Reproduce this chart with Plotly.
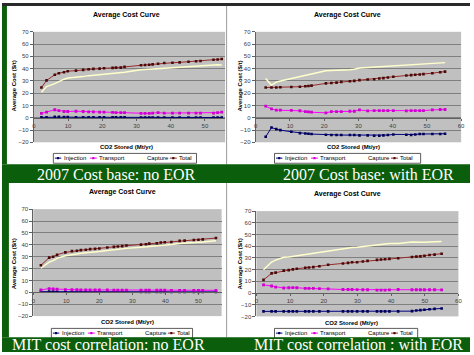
import plotly.graph_objects as go

W, H = 474, 355

# ---------------- data ----------------
series_names = ["Injection", "Transport", "Capture", "Total"]
captions = ["2007 Cost base: no EOR", "2007 Cost base: with EOR",
            "MIT cost correlation: no EOR", "MIT cost correlation : with EOR"]
chart_title = "Average Cost Curve"
x_title = "CO2 Stored (Mt/yr)"
y_title = "Average Cost ($/t)"
y_ticks = [-20, -10, 0, 10, 20, 30, 40, 50, 60, 70]
x_ticks = [0, 10, 20, 30, 40, 50, 60]

# Panel 1: 2007 cost base, no EOR
p1_x = [2.2, 3.7, 6.1, 7.3, 8.8, 9.9, 12.3, 14.4, 16.0, 17.4, 19.2, 20.5, 23.0, 24.0, 25.4,
        26.5, 31.3, 32.5, 33.7, 34.7, 36.3, 38.1, 40.5, 42.6, 45.2, 47.4, 48.7, 52.5, 53.7, 54.9]
p1_total = [24.6, 30.4, 35.0, 36.3, 37.1, 37.9, 38.4, 39.0, 39.5, 39.8, 40.0, 40.3, 40.6, 40.8, 40.8,
            41.4, 42.7, 43.0, 43.2, 43.5, 44.0, 44.6, 44.8, 45.1, 45.6, 46.0, 46.2, 47.2, 47.5, 47.8]
p1_transport = [3.5, 4.6, 6.5, 5.8, 5.1, 5.1, 5.3, 5.1, 4.8, 4.8, 4.6, 4.6, 4.3, 4.1, 4.1,
                4.1, 3.5, 3.5, 3.5, 3.8, 4.1, 3.8, 3.8, 3.8, 3.8, 3.8, 3.8, 3.8, 4.2, 4.6]
p1_injection = [0.3, 0.4, 0.7, 0.8, 0.6, 0.5, 0.4, 0.4, 0.4, 0.4, 0.3, 0.3, 0.3, 0.3, 0.3,
                0.3, 0.2, 0.2, 0.2, 0.2, 0.2, 0.2, 0.2, 0.2, 0.2, 0.2, 0.2, 0.2, 0.2, 0.2]
p1_capture = [20.8, 25.4, 27.8, 29.7, 31.4, 32.3, 32.7, 33.5, 34.3, 34.6, 35.1, 35.4, 36.0, 36.4, 36.4,
              37.0, 39.0, 39.3, 39.5, 39.5, 39.7, 40.6, 40.8, 41.1, 41.6, 42.0, 42.2, 43.2, 43.1, 43.0]

# Panel 2: 2007 cost base, with EOR
p2_x = [2.9, 4.6, 6.0, 7.2, 10.4, 12.9, 14.5, 15.4, 16.3, 20.5, 22.1, 23.6, 25.0, 27.5, 28.8,
        30.3, 32.7, 34.6, 36.1, 37.3, 38.6, 40.2, 44.0, 45.4, 46.6, 47.9, 49.0, 51.6, 53.9, 55.3]
p2_total = [24.6, 24.6, 24.6, 24.8, 25.1, 25.3, 25.6, 25.9, 26.2, 28.0, 28.3, 28.6, 29.2, 29.7, 30.0,
            30.6, 31.2, 31.4, 32.0, 32.3, 32.8, 33.4, 34.4, 34.7, 35.0, 35.2, 35.5, 36.3, 37.1, 37.6]
p2_transport = [9.4, 7.2, 6.2, 6.2, 6.0, 5.7, 5.0, 4.7, 4.5, 4.0, 5.0, 5.0, 5.0, 5.3, 5.3,
                6.4, 5.6, 5.8, 5.8, 5.8, 5.8, 5.8, 5.6, 5.8, 5.8, 5.8, 5.8, 6.4, 6.7, 6.7]
p2_injection = [-15.5, -8.0, -9.3, -10.1, -11.4, -12.5, -12.8, -13.0, -13.3, -13.9, -14.1, -14.1, -14.1, -14.1, -14.1,
                -14.4, -14.4, -14.7, -14.7, -14.4, -14.1, -13.6, -13.9, -14.1, -13.6, -13.3, -13.3, -13.3, -13.3, -13.0]
p2_capture = [32.0, 26.5, 29.0, 30.0, 32.0, 33.5, 34.5, 35.0, 35.5, 38.3, 38.4, 38.5, 38.6, 39.0, 39.5,
              40.5, 41.0, 41.3, 41.5, 41.8, 42.0, 42.2, 43.3, 43.5, 43.6, 43.7, 44.0, 44.3, 44.6, 44.9]

# Panel 3: MIT cost correlation, no EOR
p3_x = [2.3, 4.8, 6.0, 7.2, 9.7, 11.7, 13.2, 14.4, 15.9, 17.2, 18.7, 20.0, 22.4, 24.4, 25.6,
        26.9, 28.2, 32.6, 34.1, 35.1, 37.4, 38.6, 39.8, 41.8, 44.3, 45.8, 48.6, 50.0, 51.3, 55.3]
p3_total = [22.8, 29.2, 30.0, 31.7, 33.6, 34.7, 35.0, 35.5, 35.8, 36.4, 36.6, 36.9, 37.7, 38.3, 38.6,
            38.9, 39.4, 40.2, 40.5, 41.0, 41.3, 41.9, 42.2, 42.4, 43.3, 43.5, 44.1, 44.3, 44.6, 45.7]
p3_transport = [2.0, 3.2, 2.8, 2.6, 2.3, 2.2, 2.2, 2.1, 2.1, 2.0, 2.0, 2.0, 2.0, 1.9, 1.9,
                1.9, 1.9, 1.8, 1.8, 1.8, 1.8, 1.8, 1.8, 1.7, 1.7, 1.7, 1.7, 1.7, 1.7, 1.7]
p3_injection = [0.6, 0.6, 0.6, 0.5, 0.5, 0.5, 0.5, 0.5, 0.5, 0.5, 0.5, 0.5, 0.5, 0.5, 0.5,
                0.5, 0.5, 0.4, 0.4, 0.4, 0.4, 0.4, 0.4, 0.4, 0.4, 0.4, 0.4, 0.4, 0.4, 0.4]
p3_capture = [20.3, 25.5, 26.7, 28.6, 30.8, 32.0, 32.3, 32.9, 33.2, 33.9, 34.1, 34.4, 35.2, 35.9, 36.2,
              36.5, 37.0, 37.9, 38.2, 38.7, 39.0, 39.6, 39.9, 40.2, 41.1, 41.3, 41.9, 42.1, 42.4, 43.5]

# Panel 4: MIT cost correlation, with EOR
p4_x = [2.1, 4.5, 5.7, 8.1, 9.6, 10.8, 12.0, 14.5, 15.6, 16.9, 18.7, 21.3, 25.7, 27.2, 28.4,
        29.9, 31.6, 33.0, 35.8, 37.0, 38.2, 39.5, 42.1, 46.2, 47.5, 48.7, 49.9, 51.4, 52.9, 55.0]
p4_total = [11.2, 16.8, 17.4, 19.1, 19.6, 20.2, 20.8, 21.6, 21.8, 22.1, 22.9, 24.1, 25.2, 25.8, 26.3,
            26.3, 26.9, 27.5, 28.3, 28.6, 28.8, 29.2, 29.7, 30.8, 31.1, 31.3, 31.9, 32.5, 32.8, 33.6]
p4_transport = [7.0, 6.0, 5.0, 4.3, 4.5, 4.6, 4.5, 4.0, 4.0, 4.0, 3.7, 3.5, 3.0, 3.0, 3.0,
                2.9, 2.8, 2.8, 2.5, 2.5, 2.5, 2.6, 3.0, 2.8, 2.8, 2.8, 2.8, 2.8, 2.8, 2.7]
p4_injection = [-15.7, -15.7, -15.7, -15.7, -15.7, -15.7, -15.7, -15.7, -15.7, -15.7, -15.7, -15.7, -15.7, -15.7, -15.7,
                -15.7, -15.7, -15.7, -15.7, -15.7, -15.7, -15.7, -15.7, -15.5, -15.0, -14.6, -14.3, -13.9, -13.6, -13.2]
p4_capture = [19.9, 26.5, 28.1, 30.5, 30.8, 31.3, 32.0, 33.3, 33.5, 33.8, 34.9, 36.3, 37.9, 38.5, 39.0,
              39.1, 39.8, 40.4, 41.5, 41.8, 42.0, 42.3, 42.4, 43.5, 43.3, 43.1, 43.4, 43.6, 43.6, 44.1]

data_sets = [
    (p1_x, p1_injection, p1_transport, p1_capture, p1_total),
    (p2_x, p2_injection, p2_transport, p2_capture, p2_total),
    (p3_x, p3_injection, p3_transport, p3_capture, p3_total),
    (p4_x, p4_injection, p4_transport, p4_capture, p4_total),
]

# ---------------- layout (pixel geometry) ----------------
def fx(p):
    return p / W

def fy(p):
    return 1 - p / H

panels = [
    dict(plot=(32.3, 226.0, 29.3, 141.7), xmax=55.9, title=(126, 12), xt=(126, 146), yt=(12, 84),
         leg=(52, 153, 197, 163), cap=(115.5, 174)),
    dict(plot=(257.0, 465.0, 29.3, 141.7), xmax=60, title=(350, 12), xt=(356, 146), yt=(241, 84),
         leg=(276, 153, 424, 163), cap=(371, 174)),
    dict(plot=(31.7, 222.4, 209.7, 318.5), xmax=57, title=(122, 192), xt=(127, 324), yt=(12, 265),
         leg=(50, 331, 193, 341), cap=(107.5, 347.5)),
    dict(plot=(257.7, 462.3, 211.7, 318.8), xmax=60, title=(350, 194), xt=(354, 325), yt=(241, 265),
         leg=(276, 331, 421, 341), cap=(361, 347.5)),
]

YMIN, YMAX = -20, 70
GREEN = "#0b5e0b"
SANS = "Liberation Sans, Arial, sans-serif"
SERIF = "Liberation Serif, Times New Roman, serif"

styles = {
    "Injection": dict(line=dict(color="#000080", width=1), marker=dict(color="#00005a", size=2.6, symbol="square"), mode="lines+markers"),
    "Transport": dict(line=dict(color="#ff00ff", width=1), marker=dict(color="#d000d0", size=2.8, symbol="square"), mode="lines+markers"),
    "Capture": dict(line=dict(color="#ffffcc", width=1.5), marker=dict(size=1), mode="lines"),
    "Total": dict(line=dict(color="#962a2a", width=1), marker=dict(color="#4a0808", size=2.6, symbol="square"), mode="lines+markers"),
}

fig = go.Figure()
shapes = []
annotations = []

# background strips
shapes += [
    dict(type="rect", xref="paper", yref="paper", x0=0, x1=1, y0=fy(3), y1=1, fillcolor="#2a2a2a", line_width=0, layer="below"),
    dict(type="rect", xref="paper", yref="paper", x0=0, x1=fx(5), y0=fy(164), y1=fy(3), fillcolor=GREEN, line_width=0, layer="below"),
    dict(type="rect", xref="paper", yref="paper", x0=0, x1=fx(7), y0=fy(340), y1=fy(183), fillcolor=GREEN, line_width=0, layer="below"),
    dict(type="line", xref="paper", yref="paper", x0=fx(227.5), x1=fx(227.5), y0=fy(164), y1=fy(3), line=dict(color="#9a9a9a", width=1), layer="below"),
    dict(type="line", xref="paper", yref="paper", x0=fx(227.5), x1=fx(227.5), y0=fy(340), y1=fy(183), line=dict(color="#9a9a9a", width=1), layer="below"),
]

for i, (pan, ds) in enumerate(zip(panels, data_sets)):
    n = i + 1
    xs = "x" if n == 1 else f"x{n}"
    ys = "y" if n == 1 else f"y{n}"
    x0p, x1p, y0p, y1p = pan["plot"]
    ydom = [fy(y1p), fy(y0p)]
    zero_pos = ydom[0] + (0 - YMIN) / (YMAX - YMIN) * (ydom[1] - ydom[0])

    xv, inj, tra, cap, tot = ds
    for name, vals in zip(series_names, [inj, tra, cap, tot]):
        st = styles[name]
        fig.add_trace(go.Scatter(x=xv, y=vals, name=name, xaxis=xs, yaxis=ys, mode=st["mode"],
                                 line=st["line"], marker=st["marker"], showlegend=False,
                                 hoverinfo="skip"))

    xa = "xaxis" if n == 1 else f"xaxis{n}"
    ya = "yaxis" if n == 1 else f"yaxis{n}"
    fig.update_layout(**{
        xa: dict(domain=[fx(x0p), fx(x1p)], range=[0, pan["xmax"]], anchor="free", position=zero_pos,
                 tickvals=x_ticks, showgrid=False, zeroline=False, showline=True, linecolor="#606060",
                 linewidth=1, ticks="outside", ticklen=2, tickcolor="#606060",
                 tickfont=dict(family=SANS, size=6, color="#404040")),
        ya: dict(domain=ydom, range=[YMIN, YMAX], anchor=xs, tickvals=y_ticks, showgrid=True,
                 gridcolor="#7f7f7f", gridwidth=1, zeroline=False, showline=True, linecolor="#606060",
                 linewidth=1, ticks="outside", ticklen=3, tickcolor="#606060",
                 tickfont=dict(family=SANS, size=6, color="#404040")),
    })

    # texts
    annotations.append(dict(text="<b>" + chart_title + "</b>", x=fx(pan["title"][0]), y=fy(pan["title"][1]),
                            xref="paper", yref="paper", showarrow=False, xanchor="center", yanchor="middle",
                            font=dict(family=SANS, size=7, color="black")))
    annotations.append(dict(text="<b>" + x_title + "</b>", x=fx(pan["xt"][0]), y=fy(pan["xt"][1]),
                            xref="paper", yref="paper", showarrow=False, xanchor="center", yanchor="middle",
                            font=dict(family=SANS, size=6, color="black")))
    annotations.append(dict(text="<b>" + y_title + "</b>", x=fx(pan["yt"][0]), y=fy(pan["yt"][1]),
                            xref="paper", yref="paper", showarrow=False, xanchor="center", yanchor="middle",
                            textangle=-90, font=dict(family=SANS, size=6, color="black")))
    annotations.append(dict(text=captions[i], x=fx(pan["cap"][0]), y=fy(pan["cap"][1]), borderpad=0,
                            xref="paper", yref="paper", showarrow=False, xanchor="center", yanchor="middle",
                            font=dict(family=SERIF, size=16, color="white")))

    # legend (manual)
    L, T, R, B = pan["leg"]
    shapes.append(dict(type="rect", xref="paper", yref="paper", x0=fx(L), x1=fx(R), y0=fy(B), y1=fy(T),
                       line=dict(color="#333333", width=0.8), fillcolor="white", layer="below"))
    ymid = T + 4.8
    item_pos = [(1.5, 8.0, 9.5), (37.0, 44.0, 45.5), (86.0, 93.0, 94.0), (118.0, 125.0, 126.5)]
    for name, (l0, l1, t0) in zip(series_names, item_pos):
        st = styles[name]
        shapes.append(dict(type="line", xref="paper", yref="paper", x0=fx(L + l0), x1=fx(L + l1),
                           y0=fy(ymid), y1=fy(ymid), line=dict(color=st["line"]["color"], width=1)))
        if name != "Capture":
            cx = L + (l0 + l1) / 2
            shapes.append(dict(type="rect", xref="paper", yref="paper", x0=fx(cx - 1.1), x1=fx(cx + 1.1),
                               y0=fy(ymid + 1.1), y1=fy(ymid - 1.1), fillcolor=st["marker"]["color"],
                               line_width=0))
        annotations.append(dict(text=name, x=fx(L + t0), y=fy(ymid), xref="paper", yref="paper",
                                showarrow=False, xanchor="left", yanchor="middle", borderpad=0,
                                font=dict(family=SANS, size=6, color="black")))

# green caption banners (drawn after legend boxes so they overlap them)
shapes += [
    dict(type="rect", xref="paper", yref="paper", x0=0, x1=1, y0=fy(183), y1=fy(164), fillcolor=GREEN, line_width=0, layer="below"),
    dict(type="rect", xref="paper", yref="paper", x0=0, x1=1, y0=0, y1=fy(340), fillcolor=GREEN, line_width=0, layer="below"),
]

fig.update_layout(
    width=W, height=H, margin=dict(l=0, r=0, t=0, b=0),
    paper_bgcolor="white", plot_bgcolor="#c0c0c0",
    showlegend=False, shapes=shapes, annotations=annotations,
)

fig.write_html("out.html", config={"displayModeBar": False},
               post_script="document.body.style.margin='0px';"
                           "document.body.style.overflow='hidden';"
                           "document.documentElement.style.overflow='hidden';")
